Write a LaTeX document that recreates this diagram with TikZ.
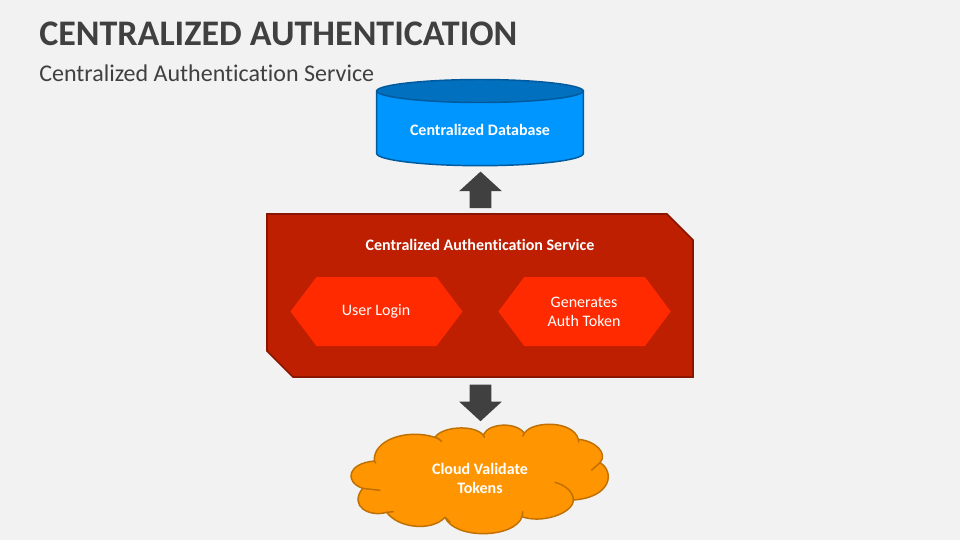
\documentclass[tikz,border=0pt]{standalone}
\usepackage{fontspec}
\setmainfont[Ligatures=NoCommon]{Carlito}
\usetikzlibrary{shapes.arrows}
\definecolor{bgc}{HTML}{F2F2F2}
\definecolor{titlec}{HTML}{404040}
\definecolor{dbfill}{HTML}{0096FF}
\definecolor{dbtop}{HTML}{0070BF}
\definecolor{dbline}{HTML}{005A9E}
\definecolor{boxfill}{HTML}{BE1F00}
\definecolor{boxline}{HTML}{8A1500}
\definecolor{hexfill}{HTML}{FF2A00}
\definecolor{cloudfill}{HTML}{FF9500}
\definecolor{cloudline}{HTML}{BF7000}
\tikzset{
  lbl/.style={text=white,font=\fontsize{12}{14.5}\selectfont\bfseries,align=center,inner sep=0pt},
  lblreg/.style={text=white,font=\fontsize{12}{14.5}\selectfont,align=center,inner sep=0pt},
  blockarrow/.style={single arrow,fill=titlec,draw=none,inner sep=0pt,text width=0pt,text height=15.75pt,text depth=0pt,
     minimum width=31.5pt,single arrow head extend=7.875pt,single arrow tip angle=95,anchor=center},
  cloudedge/.style={draw=cloudline,line width=1.1pt,line cap=round,line join=round}
}
\begin{document}
\begin{tikzpicture}[x=0.75pt,y=-0.75pt]
\useasboundingbox (0,0) rectangle (960,540);
\fill[bgc] (0,0) rectangle (960,540);
\node[anchor=west,inner sep=0pt,text=titlec,font=\fontsize{27}{32}\selectfont\bfseries] (title) at (39,34) {CENTRALIZED AUTHENTICATION};
\node[anchor=west,inner sep=0pt,text=titlec,font=\fontsize{18}{22}\selectfont] (subtitle) at (39,73.5) {Centralized Authentication Service};
% database
\path[fill=dbfill,draw=dbline,line width=1.1pt] (376.7,91) -- (376.7,153.5) .. controls (376.7,160) and (423,165.7) .. (480,165.7) .. controls (537,165.7) and (583.3,160) .. (583.3,153.5) -- (583.3,91) -- cycle;
\path[fill=dbtop,draw=dbline,line width=1.1pt] (376.7,91) .. controls (376.7,85) and (423,79.5) .. (480,79.5) .. controls (537,79.5) and (583.3,85) .. (583.3,91) .. controls (583.3,97) and (537,102.5) .. (480,102.5) .. controls (423,102.5) and (376.7,97) .. (376.7,91) -- cycle;
\node[lbl] (db) at (480,130) {Centralized Database};
% arrows
\node[blockarrow,rotate=90,minimum height=27.4pt] (up) at (480.5,194.8) {};
\node[blockarrow,rotate=-90,minimum height=27.4pt] (down) at (480.5,398) {};
% service box
\path[fill=boxfill,draw=boxline,line width=1.3pt,line join=miter] (267,214) -- (667,214) -- (693,240) -- (693,377) -- (293,377) -- (267,351) -- cycle;
\node[lbl] (svc) at (480,245) {Centralized Authentication Service};
\path[fill=hexfill] (290.5,311.5) -- (316.5,277) -- (436.5,277) -- (462.5,311.5) -- (436.5,346) -- (316.5,346) -- cycle;
\node[lblreg] (login) at (376,311.5) {User Login};
\path[fill=hexfill] (498.3,311.5) -- (524.3,277) -- (645,277) -- (670.7,311.5) -- (645,346) -- (524.3,346) -- cycle;
\node[lblreg] (token) at (584,312) {Generates\\Auth Token};
% cloud, in 3x crop coordinates
\begin{scope}[shift={(340,400)},x=0.25pt,y=-0.25pt]
\path[fill=cloudfill,cloudedge]
 (103,183) .. controls (98,120) and (200,85) .. (285,112)
 .. controls (305,80) and (400,72) .. (430,105)
 .. controls (445,68) and (530,65) .. (553,100)
 .. controls (575,62) and (700,60) .. (715,118)
 .. controls (765,122) and (805,160) .. (780,188)
 .. controls (825,215) and (815,292) .. (700,300)
 .. controls (700,340) and (605,372) .. (546,350)
 .. controls (525,415) and (345,420) .. (315,352)
 .. controls (275,395) and (175,385) .. (140,337)
 .. controls (90,352) and (25,320) .. (68,265)
 .. controls (12,245) and (22,190) .. (103,183) -- cycle;
\draw[cloudedge] (103,183) -- (107,189);
\draw[cloudedge] (285,112) .. controls (292,114) and (300,118) .. (305,124);
\draw[cloudedge] (430,105) -- (433,112);
\draw[cloudedge] (553,100) -- (548,108);
\draw[cloudedge] (715,118) -- (716,126);
\draw[cloudedge] (780,188) -- (755,210);
\draw[cloudedge] (700,300) .. controls (700,275) and (675,255) .. (645,247);
\draw[cloudedge] (546,350) -- (548,335);
\draw[cloudedge] (315,352) -- (330,366);
\draw[cloudedge] (140,337) -- (160,335);
\draw[cloudedge] (68,265) -- (120,271);
\end{scope}
\node[lbl] (cloud) at (480,478.5) {Cloud Validate\\Tokens};
\end{tikzpicture}
\end{document}
